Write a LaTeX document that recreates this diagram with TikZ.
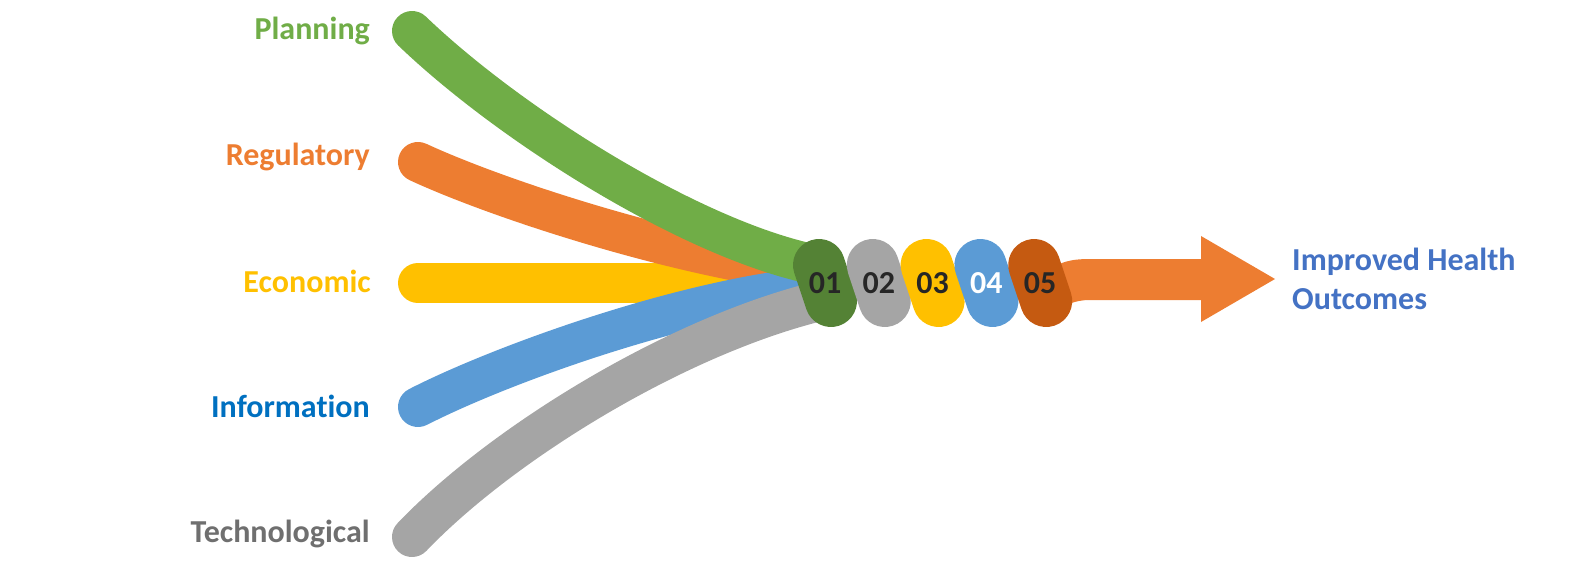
\documentclass[tikz,border=0pt]{standalone}
\usepackage{fontspec}
\setmainfont{Carlito}[Ligatures=NoCommon]
\usetikzlibrary{calc}
\definecolor{cgreen}{HTML}{70AD47}
\definecolor{corange}{HTML}{ED7D31}
\definecolor{cyellow}{HTML}{FFC000}
\definecolor{cblue}{HTML}{5B9BD5}
\definecolor{cgray}{HTML}{A5A5A5}
\definecolor{pgreen}{HTML}{548235}
\definecolor{pbrown}{HTML}{C55A11}
\definecolor{tinfo}{HTML}{0070C0}
\definecolor{ttech}{HTML}{6F6F6F}
\definecolor{tout}{HTML}{4472C4}
\definecolor{tdark}{HTML}{262626}
\begin{document}
\begin{tikzpicture}[x=1pt,y=-1pt,
  strand/.style={line width=40pt,line cap=round},
  pillshape/.style={line width=52pt,line cap=round},
  lbl/.style={font=\fontsize{32}{39}\selectfont\bfseries,inner sep=0pt},
  pilltxt/.style={font=\fontsize{32}{39}\selectfont\bfseries,inner sep=0pt}]
\useasboundingbox (0,0) rectangle (1593,572);
% labels
\node[lbl,text=cgreen,anchor=base east] (lplan) at (370,40) {Planning};
\node[lbl,text=corange,anchor=base east] (lreg) at (370,166) {Regulatory};
\node[lbl,text=cyellow,anchor=base east] (leco) at (371,292) {Economic};
\node[lbl,text=tinfo,anchor=base east] (linf) at (370,417) {Information};
\node[lbl,text=ttech,anchor=base east] (ltech) at (370,542) {Technological};
% hub and strand ends
\coordinate (hub) at (825,283);
\coordinate (s1) at (412,31);
\coordinate (s2) at (418,162);
\coordinate (s3) at (418,283);
\coordinate (s4) at (418,407);
\coordinate (s5) at (412,537);
\coordinate (e1) at ($(hub)+(-13,-19)$);
\coordinate (e2) at ($(hub)+(-13,-10)$);
\coordinate (e3) at ($(hub)+(-13,0)$);
\coordinate (e4) at ($(hub)+(-13,4)$);
\coordinate (e5) at ($(hub)+(-13,20)$);
% strands
\draw[strand,cyellow] (s3) -- (e3);
\draw[strand,corange] (s2) .. controls (500,200) and (680,258) .. (e2);
\draw[strand,cblue] (s4) .. controls (500,365) and (680,300) .. (e4);
\draw[strand,cgreen] (s1) .. controls (510,125) and (690,238) .. (e1);
\draw[strand,cgray] (s5) .. controls (500,445) and (670,340) .. (e5);
% arrow
\coordinate (atip) at (1275,279);
\fill[corange] (1045,272) .. controls (1060,262) and (1070,259) .. (1090,259) -- (1201,259) -- (1201,236) -- (atip) -- (1201,322) -- (1201,300) -- (1090,300) .. controls (1075,300) and (1065,305) .. (1060,310) -- cycle;
% pills
\foreach \i/\col/\tc [count=\k from 0] in {01/pgreen/tdark,02/cgray/tdark,03/cyellow/tdark,04/cblue/white,05/pbrown/tdark}{
  \coordinate (c\i) at ($(hub)+(53.8*\k,0)$);
  \draw[pillshape,draw=\col] ($(c\i)+(-6,-18)$) -- ($(c\i)+(6,18)$);
  \node[pilltxt,text=\tc] (p\i) at (c\i) {\i};
}
% outcome text
\node[lbl,text=tout,anchor=base west] (out1) at (1292,270) {Improved Health};
\node[lbl,text=tout,anchor=base west] (out2) at (1292,309) {Outcomes};
\end{tikzpicture}
\end{document}
